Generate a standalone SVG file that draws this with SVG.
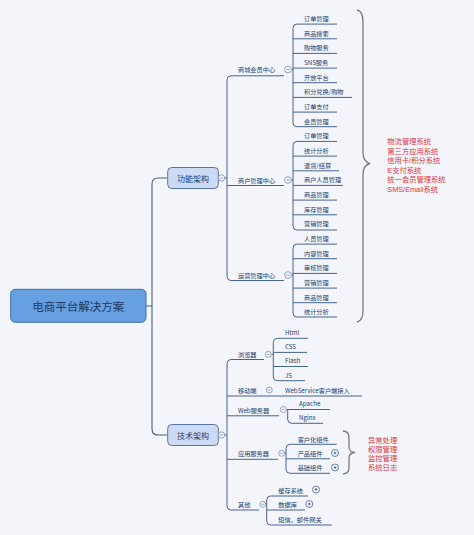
<svg xmlns="http://www.w3.org/2000/svg" width="474" height="535" viewBox="0 0 474 535">
<defs>
<style>
text{font-family:"Noto Sans CJK SC","Noto Sans",sans-serif;dominant-baseline:central;fill:#22406e}
.leaf{font-size:6.2px}
.l2{font-size:6.2px}
.red{font-size:7.3px;fill:#d8353d;font-family:"Liberation Sans","Noto Sans CJK SC",sans-serif}
.redt{font-size:7.3px;fill:#d8353d;font-family:"Liberation Sans","Noto Sans CJK SC",sans-serif}
.ln{fill:none;stroke:#44638f;stroke-width:1}
.tr{fill:none;stroke:#4d5f78;stroke-width:1.1}
.br{fill:none;stroke:#7a7a7a;stroke-width:1.3}
.cc{fill:#f3f5fa;stroke:#7b90b2;stroke-width:0.8}
.cm{stroke:#7b90b2;stroke-width:0.7}
.cp{stroke:#44638f;stroke-width:0.9}
.sub{fill:#cddaf6;stroke:#56779f;stroke-width:1}
</style>
</defs>
<rect width="474" height="535" fill="#f3f5fa"/>

<g id="connectors">
<path class="tr" d="M146,306 L152,306 M167,178 L158,178 Q152,178 152,184 L152,429 Q152,435 158,435 L167,435"/>
<path class="ln" d="M225,178 L227,178 M284,75.8 L231,75.8 Q227,75.8 227,79.8 L227,276.5 Q227,280.5 231,280.5 L284,280.5 M227,185.5 L284,185.5"/>
<path class="ln" d="M291.5,69.5 L293,69.5 M337,24.1 L297,24.1 Q293,24.1 293,28.1 L293,122.7 Q293,126.7 297,126.7 L337,126.7
M293,38.8 L337,38.8 M293,53.4 L337,53.4 M293,68.1 L337,68.1 M293,82.7 L337,82.7 M293,97.4 L352,97.4 M293,112.1 L337,112.1"/>
<path class="ln" d="M291.5,180 L293,180 M337,141.4 L297,141.4 Q293,141.4 293,145.4 L293,226 Q293,230 297,230 L337,230
M293,156.1 L337,156.1 M293,170.8 L339,170.8 M293,185.4 L343,185.4 M293,200.1 L337,200.1 M293,214.8 L337,214.8"/>
<path class="ln" d="M291.5,275 L293,275 M337,244.1 L297,244.1 Q293,244.1 293,248.1 L293,313 Q293,317 297,317 L337,317
M293,258.7 L337,258.7 M293,273.4 L337,273.4 M293,288.1 L337,288.1 M293,302.7 L337,302.7"/>
<path class="ln" d="M225,435 L227,435 M264,359.5 L231,359.5 Q227,359.5 227,363.5 L227,506 Q227,510 231,510 L259,510 M227,396 L362,396 M227,415.8 L279,415.8 M227,459.3 L278,459.3"/>
<path class="ln" d="M271.3,354.3 L273.3,354.3 M308,338.3 L277.3,338.3 Q273.3,338.3 273.3,342.3 L273.3,376.7 Q273.3,380.7 277.3,380.7 L305,380.7 M273.3,352.4 L307,352.4 M273.3,366.5 L308,366.5"/>
<path class="ln" d="M286.3,409.5 L330,409.5 M287.7,409.5 L287.7,419.3 Q287.7,423.3 291.7,423.3 L323,423.3"/>
<path class="ln" d="M284.7,453.3 L286,453.3 M336.7,444.3 L290,444.3 Q286,444.3 286,448.3 L286,469.3 Q286,473.3 290,473.3 L330,473.3 M286,458.8 L330,458.8"/>
<path class="ln" d="M265.7,504.3 L266.7,504.3 M308,496 L270.7,496 Q266.7,496 266.7,500 L266.7,521 Q266.7,525 270.7,525 L331.7,525 M266.7,510 L305,510"/>
<path class="br" d="M357,10 Q363,11 363,22 L363,152 Q363,162 370,163.5 Q363,165 363,175 L363,310 Q363,321 357,322"/>
<path class="br" d="M343,431 Q349,431.5 349,437 L349,447 Q349,452 355,452.5 Q349,453 349,458 L349,468 Q349,473.5 343,474"/>
</g>

<g id="root">
<rect x="10.7" y="289.3" width="135.3" height="33" rx="4.5" fill="#67a0e0" stroke="#3e70aa" stroke-width="1"/>
<text x="78.3" y="306" font-size="11.5" text-anchor="middle" style="fill:#1e3a66">电商平台解决方案</text>
</g>

<g id="func">
<rect class="sub" x="167.7" y="167.5" width="50.6" height="21" rx="4"/>
<text x="193" y="178" font-size="8" text-anchor="middle">功能架构</text>
<circle class="cc" cx="221.6" cy="178" r="3.2"/><line class="cm" x1="220" y1="178" x2="223.2" y2="178"/>
</g>
<g id="tech">
<rect class="sub" x="167.7" y="424.5" width="50.6" height="21" rx="4"/>
<text x="193" y="435" font-size="8" text-anchor="middle">技术架构</text>
<circle class="cc" cx="221.6" cy="435" r="3.2"/><line class="cm" x1="220" y1="435" x2="223.2" y2="435"/>
</g>

<g id="mall">
<text class="l2" x="238" y="69.5">商城会员中心</text>
<circle class="cc" cx="288" cy="69.5" r="3.4"/><line class="cm" x1="286.3" y1="69.5" x2="289.7" y2="69.5"/>
<text class="leaf" x="304" y="18.5">订单管理</text>
<text class="leaf" x="304" y="33.2">商品搜索</text>
<text class="leaf" x="304" y="47.8">购物服务</text>
<text class="leaf" x="304" y="62.5">SNS服务</text>
<text class="leaf" x="304" y="77.1">开放平台</text>
<text class="leaf" x="304" y="91.8">积分兑换/购物</text>
<text class="leaf" x="304" y="106.5">订单支付</text>
<text class="leaf" x="304" y="121.1">会员管理</text>
</g>
<g id="merchant">
<text class="l2" x="238" y="180">商户管理中心</text>
<circle class="cc" cx="288" cy="180" r="3.4"/><line class="cm" x1="286.3" y1="180" x2="289.7" y2="180"/>
<text class="leaf" x="304" y="135.8">订单管理</text>
<text class="leaf" x="304" y="150.5">统计分析</text>
<text class="leaf" x="304" y="165.2">退货/结算</text>
<text class="leaf" x="304" y="179.8">商户人员管理</text>
<text class="leaf" x="304" y="194.5">商品管理</text>
<text class="leaf" x="304" y="209.2">库存管理</text>
<text class="leaf" x="304" y="223.8">营销管理</text>
</g>
<g id="ops">
<text class="l2" x="238" y="275">运营管理中心</text>
<circle class="cc" cx="288" cy="275" r="3.4"/><line class="cm" x1="286.3" y1="275" x2="289.7" y2="275"/>
<text class="leaf" x="304" y="238.6">人员管理</text>
<text class="leaf" x="304" y="253.2">内容管理</text>
<text class="leaf" x="304" y="267.9">审核管理</text>
<text class="leaf" x="304" y="282.5">营销管理</text>
<text class="leaf" x="304" y="297.2">商品管理</text>
<text class="leaf" x="304" y="311.7">统计分析</text>
</g>
<g id="sys-list">
<text class="red" x="387.3" y="141.7">物流管理系统</text>
<text class="red" x="387.3" y="151.2">第三方应用系统</text>
<text class="red" x="387.3" y="160.6">信用卡/积分系统</text>
<text class="red" x="387.3" y="170.1">E支付系统</text>
<text class="red" x="387.3" y="179.5">统一会员管理系统</text>
<text class="red" x="387.3" y="189">SMS/Email系统</text>
</g>

<g id="browser">
<text class="l2" x="238" y="354.3">浏览器</text>
<circle class="cc" cx="268.3" cy="354.3" r="3"/><line class="cm" x1="266.8" y1="354.3" x2="269.8" y2="354.3"/>
<text class="leaf" x="285" y="332.7">Html</text>
<text class="leaf" x="285" y="346.8">CSS</text>
<text class="leaf" x="285" y="360.9">Flash</text>
<text class="leaf" x="285" y="375">JS</text>
</g>
<g id="mobile">
<text class="l2" x="238" y="390">移动端</text>
<circle class="cc" cx="269.3" cy="390" r="3"/><line class="cm" x1="267.8" y1="390" x2="270.8" y2="390"/>
<text class="leaf" x="285" y="390">WebService客户端接入</text>
</g>
<g id="webserver">
<text class="l2" x="238" y="410">Web服务器</text>
<circle class="cc" cx="283.3" cy="409.5" r="3"/><line class="cm" x1="281.8" y1="409.5" x2="284.8" y2="409.5"/>
<text class="leaf" x="299" y="403.3">Apache</text>
<text class="leaf" x="299" y="417.3">Nginx</text>
</g>
<g id="appserver">
<text class="l2" x="238" y="453.3">应用服务器</text>
<circle class="cc" cx="281.7" cy="453.3" r="3"/><line class="cm" x1="280.2" y1="453.3" x2="283.2" y2="453.3"/>
<text class="leaf" x="297.7" y="439">客户化组件</text>
<text class="leaf" x="297.7" y="453.3">产品组件</text>
<text class="leaf" x="297.7" y="467.7">基础组件</text>
<circle class="cc" cx="335" cy="453" r="3.5" style="stroke:#44638f"/><path class="cp" d="M333.6,453 H336.4 M335,451.6 V454.4"/>
<circle class="cc" cx="335" cy="467.5" r="3.5" style="stroke:#44638f"/><path class="cp" d="M333.6,467.5 H336.4 M335,466.1 V468.9"/>
</g>
<g id="app-notes">
<text class="redt" x="368" y="440">异常处理</text>
<text class="redt" x="368" y="449.3">权限管理</text>
<text class="redt" x="368" y="458.6">监控管理</text>
<text class="redt" x="368" y="467.9">系统日志</text>
</g>
<g id="other">
<text class="l2" x="238" y="504.3">其他</text>
<circle class="cc" cx="262.7" cy="504.3" r="3"/><line class="cm" x1="261.2" y1="504.3" x2="264.2" y2="504.3"/>
<text class="leaf" x="278.3" y="490">缓存系统</text>
<text class="leaf" x="278.3" y="504.3">数据库</text>
<text class="leaf" x="278.3" y="519">短信、邮件网关</text>
<circle class="cc" cx="316" cy="489.5" r="3.5" style="stroke:#44638f"/><path class="cp" d="M314.6,489.5 H317.4 M316,488.1 V490.9"/>
<circle class="cc" cx="309.3" cy="504" r="3.5" style="stroke:#44638f"/><path class="cp" d="M307.9,504 H310.7 M309.3,502.6 V505.4"/>
</g>
</svg>
